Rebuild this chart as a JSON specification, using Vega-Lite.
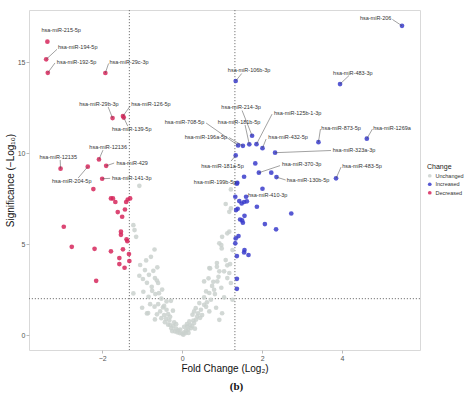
{
  "$schema": "https://vega.github.io/schema/vega-lite/v6.json",
  "width": 391,
  "height": 340,
  "autosize": {"type": "none"},
  "padding": {"left": 29, "top": 10, "right": 54, "bottom": 44},
  "background": "white",
  "config": {
    "view": {"stroke": "#d9d9d9", "strokeWidth": 1},
    "font": "Liberation Sans",
    "legend": {"orient": "none", "legendX": 398, "legendY": 153, "titleFontSize": 7, "titleFontWeight": "normal", "titleColor": "#222", "labelFontSize": 5.5, "labelColor": "#333", "symbolSize": 14, "rowPadding": 1.5, "titlePadding": 3, "symbolStrokeWidth": 0, "symbolType": "circle", "labelOffset": 3}
  },
  "title": {"text": "(b)", "orient": "bottom", "anchor": "middle", "font": "Liberation Serif", "fontSize": 11, "fontWeight": "bold", "color": "#111", "offset": 8, "dx": 12},
  "datasets": {
    "genes": [
      {"log2fc": -1.07, "sig": 8.2, "change": "Unchanged"},
      {"log2fc": -1.22, "sig": 6.04, "change": "Unchanged"},
      {"log2fc": -1.19, "sig": 5.77, "change": "Unchanged"},
      {"log2fc": -1.15, "sig": 5.4, "change": "Unchanged"},
      {"log2fc": -0.69, "sig": 4.7, "change": "Unchanged"},
      {"log2fc": -1.05, "sig": 3.85, "change": "Unchanged"},
      {"log2fc": -0.93, "sig": 3.57, "change": "Unchanged"},
      {"log2fc": -0.72, "sig": 3.53, "change": "Unchanged"},
      {"log2fc": -1.07, "sig": 3.26, "change": "Unchanged"},
      {"log2fc": -0.98, "sig": 3.08, "change": "Unchanged"},
      {"log2fc": -0.88, "sig": 2.87, "change": "Unchanged"},
      {"log2fc": -0.63, "sig": 3.0, "change": "Unchanged"},
      {"log2fc": -0.76, "sig": 2.65, "change": "Unchanged"},
      {"log2fc": -0.97, "sig": 2.38, "change": "Unchanged"},
      {"log2fc": -1.22, "sig": 2.29, "change": "Unchanged"},
      {"log2fc": -0.84, "sig": 2.1, "change": "Unchanged"},
      {"log2fc": -0.69, "sig": 1.56, "change": "Unchanged"},
      {"log2fc": -0.88, "sig": 1.19, "change": "Unchanged"},
      {"log2fc": -0.63, "sig": 1.14, "change": "Unchanged"},
      {"log2fc": -0.68, "sig": 0.86, "change": "Unchanged"},
      {"log2fc": -0.83, "sig": 3.31, "change": "Unchanged"},
      {"log2fc": -0.68, "sig": 3.13, "change": "Unchanged"},
      {"log2fc": -0.6, "sig": 2.86, "change": "Unchanged"},
      {"log2fc": -0.75, "sig": 2.43, "change": "Unchanged"},
      {"log2fc": -0.67, "sig": 2.25, "change": "Unchanged"},
      {"log2fc": -0.52, "sig": 2.0, "change": "Unchanged"},
      {"log2fc": -0.39, "sig": 1.85, "change": "Unchanged"},
      {"log2fc": -0.28, "sig": 1.88, "change": "Unchanged"},
      {"log2fc": -0.48, "sig": 1.52, "change": "Unchanged"},
      {"log2fc": -0.39, "sig": 1.39, "change": "Unchanged"},
      {"log2fc": -0.85, "sig": 1.21, "change": "Unchanged"},
      {"log2fc": -0.23, "sig": 1.34, "change": "Unchanged"},
      {"log2fc": -0.52, "sig": 0.93, "change": "Unchanged"},
      {"log2fc": -0.43, "sig": 0.71, "change": "Unchanged"},
      {"log2fc": -0.35, "sig": 0.57, "change": "Unchanged"},
      {"log2fc": -0.27, "sig": 0.38, "change": "Unchanged"},
      {"log2fc": -0.18, "sig": 0.2, "change": "Unchanged"},
      {"log2fc": -0.06, "sig": 0.11, "change": "Unchanged"},
      {"log2fc": 0.03, "sig": 0.02, "change": "Unchanged"},
      {"log2fc": -0.62, "sig": 3.72, "change": "Unchanged"},
      {"log2fc": 1.22, "sig": 8.0, "change": "Unchanged"},
      {"log2fc": 1.09, "sig": 7.2, "change": "Unchanged"},
      {"log2fc": 1.22, "sig": 6.96, "change": "Unchanged"},
      {"log2fc": 1.18, "sig": 6.77, "change": "Unchanged"},
      {"log2fc": 1.13, "sig": 5.59, "change": "Unchanged"},
      {"log2fc": 1.18, "sig": 5.68, "change": "Unchanged"},
      {"log2fc": 0.93, "sig": 5.04, "change": "Unchanged"},
      {"log2fc": 0.99, "sig": 4.76, "change": "Unchanged"},
      {"log2fc": 1.26, "sig": 4.67, "change": "Unchanged"},
      {"log2fc": 1.09, "sig": 4.12, "change": "Unchanged"},
      {"log2fc": 0.98, "sig": 4.95, "change": "Unchanged"},
      {"log2fc": 0.87, "sig": 3.96, "change": "Unchanged"},
      {"log2fc": 1.13, "sig": 3.83, "change": "Unchanged"},
      {"log2fc": 0.68, "sig": 3.68, "change": "Unchanged"},
      {"log2fc": 0.93, "sig": 3.5, "change": "Unchanged"},
      {"log2fc": 1.05, "sig": 3.5, "change": "Unchanged"},
      {"log2fc": 1.18, "sig": 3.41, "change": "Unchanged"},
      {"log2fc": 0.55, "sig": 2.95, "change": "Unchanged"},
      {"log2fc": 0.88, "sig": 2.95, "change": "Unchanged"},
      {"log2fc": 1.13, "sig": 3.13, "change": "Unchanged"},
      {"log2fc": 1.22, "sig": 2.86, "change": "Unchanged"},
      {"log2fc": 0.8, "sig": 2.49, "change": "Unchanged"},
      {"log2fc": 0.68, "sig": 2.31, "change": "Unchanged"},
      {"log2fc": 0.82, "sig": 2.25, "change": "Unchanged"},
      {"log2fc": 0.55, "sig": 2.07, "change": "Unchanged"},
      {"log2fc": 0.72, "sig": 1.94, "change": "Unchanged"},
      {"log2fc": 1.05, "sig": 2.07, "change": "Unchanged"},
      {"log2fc": 1.26, "sig": 1.94, "change": "Unchanged"},
      {"log2fc": 0.43, "sig": 1.76, "change": "Unchanged"},
      {"log2fc": 0.55, "sig": 1.66, "change": "Unchanged"},
      {"log2fc": 0.34, "sig": 1.48, "change": "Unchanged"},
      {"log2fc": 0.47, "sig": 1.39, "change": "Unchanged"},
      {"log2fc": 0.68, "sig": 1.3, "change": "Unchanged"},
      {"log2fc": 0.93, "sig": 0.84, "change": "Unchanged"},
      {"log2fc": 0.26, "sig": 1.12, "change": "Unchanged"},
      {"log2fc": 0.38, "sig": 1.03, "change": "Unchanged"},
      {"log2fc": 0.18, "sig": 0.75, "change": "Unchanged"},
      {"log2fc": 0.3, "sig": 0.66, "change": "Unchanged"},
      {"log2fc": 0.13, "sig": 0.48, "change": "Unchanged"},
      {"log2fc": 0.22, "sig": 0.38, "change": "Unchanged"},
      {"log2fc": 0.09, "sig": 0.11, "change": "Unchanged"},
      {"log2fc": 0.7, "sig": 3.66, "change": "Unchanged"},
      {"log2fc": 0.87, "sig": 3.75, "change": "Unchanged"},
      {"log2fc": 0.91, "sig": 3.2, "change": "Unchanged"},
      {"log2fc": 0.66, "sig": 3.12, "change": "Unchanged"},
      {"log2fc": 0.78, "sig": 2.93, "change": "Unchanged"},
      {"log2fc": -0.45, "sig": 1.1, "change": "Unchanged"},
      {"log2fc": -0.4, "sig": 0.9, "change": "Unchanged"},
      {"log2fc": -0.32, "sig": 0.8, "change": "Unchanged"},
      {"log2fc": -0.3, "sig": 0.55, "change": "Unchanged"},
      {"log2fc": -0.22, "sig": 0.5, "change": "Unchanged"},
      {"log2fc": -0.15, "sig": 0.35, "change": "Unchanged"},
      {"log2fc": -0.1, "sig": 0.25, "change": "Unchanged"},
      {"log2fc": -0.12, "sig": 0.15, "change": "Unchanged"},
      {"log2fc": 0.0, "sig": 0.08, "change": "Unchanged"},
      {"log2fc": 0.05, "sig": 0.15, "change": "Unchanged"},
      {"log2fc": 0.1, "sig": 0.25, "change": "Unchanged"},
      {"log2fc": 0.15, "sig": 0.3, "change": "Unchanged"},
      {"log2fc": 0.2, "sig": 0.55, "change": "Unchanged"},
      {"log2fc": 0.25, "sig": 0.5, "change": "Unchanged"},
      {"log2fc": 0.28, "sig": 0.8, "change": "Unchanged"},
      {"log2fc": 0.35, "sig": 0.85, "change": "Unchanged"},
      {"log2fc": 0.4, "sig": 1.2, "change": "Unchanged"},
      {"log2fc": -0.05, "sig": 0.3, "change": "Unchanged"},
      {"log2fc": -0.2, "sig": 0.7, "change": "Unchanged"},
      {"log2fc": 0.12, "sig": 0.6, "change": "Unchanged"},
      {"log2fc": 0.5, "sig": 1.1, "change": "Unchanged"},
      {"log2fc": 0.45, "sig": 0.95, "change": "Unchanged"},
      {"log2fc": -0.55, "sig": 1.3, "change": "Unchanged"},
      {"log2fc": -0.6, "sig": 1.7, "change": "Unchanged"},
      {"log2fc": -0.35, "sig": 1.15, "change": "Unchanged"},
      {"log2fc": 0.6, "sig": 1.55, "change": "Unchanged"},
      {"log2fc": 0.62, "sig": 1.8, "change": "Unchanged"},
      {"log2fc": -0.45, "sig": 1.6, "change": "Unchanged"},
      {"log2fc": 0.16, "sig": 0.12, "change": "Unchanged"},
      {"log2fc": -0.25, "sig": 0.22, "change": "Unchanged"},
      {"log2fc": 0.32, "sig": 0.35, "change": "Unchanged"},
      {"log2fc": -0.58, "sig": 2.3, "change": "Unchanged"},
      {"log2fc": -0.5, "sig": 2.5, "change": "Unchanged"},
      {"log2fc": 0.6, "sig": 2.4, "change": "Unchanged"},
      {"log2fc": 0.75, "sig": 2.7, "change": "Unchanged"},
      {"log2fc": -0.8, "sig": 1.7, "change": "Unchanged"},
      {"log2fc": 0.85, "sig": 1.5, "change": "Unchanged"},
      {"log2fc": 1.0, "sig": 1.2, "change": "Unchanged"},
      {"log2fc": -1.0, "sig": 1.5, "change": "Unchanged"},
      {"log2fc": -0.15, "sig": 0.6, "change": "Unchanged"},
      {"log2fc": 0.05, "sig": 0.45, "change": "Unchanged"},
      {"log2fc": -0.3, "sig": 1.0, "change": "Unchanged"},
      {"log2fc": 0.3, "sig": 1.3, "change": "Unchanged"},
      {"log2fc": 0.98, "sig": 2.6, "change": "Unchanged"},
      {"log2fc": -0.9, "sig": 4.1, "change": "Unchanged"},
      {"log2fc": 1.2, "sig": 3.9, "change": "Unchanged"},
      {"log2fc": 1.0, "sig": 5.4, "change": "Unchanged"},
      {"log2fc": -0.78, "sig": 4.3, "change": "Unchanged"},
      {"log2fc": -3.37, "sig": 16.12, "change": "Decreased"},
      {"log2fc": -3.4, "sig": 15.15, "change": "Decreased"},
      {"log2fc": -3.36, "sig": 14.41, "change": "Decreased"},
      {"log2fc": -1.92, "sig": 14.4, "change": "Decreased"},
      {"log2fc": -1.74, "sig": 11.92, "change": "Decreased"},
      {"log2fc": -1.48, "sig": 12.03, "change": "Decreased"},
      {"log2fc": -1.46, "sig": 11.95, "change": "Decreased"},
      {"log2fc": -2.08, "sig": 9.65, "change": "Decreased"},
      {"log2fc": -3.04, "sig": 9.14, "change": "Decreased"},
      {"log2fc": -1.9, "sig": 9.3, "change": "Decreased"},
      {"log2fc": -2.36, "sig": 9.25, "change": "Decreased"},
      {"log2fc": -2.0, "sig": 8.59, "change": "Decreased"},
      {"log2fc": -2.22, "sig": 8.02, "change": "Decreased"},
      {"log2fc": -1.78, "sig": 7.51, "change": "Decreased"},
      {"log2fc": -1.73, "sig": 7.51, "change": "Decreased"},
      {"log2fc": -1.67, "sig": 7.31, "change": "Decreased"},
      {"log2fc": -1.4, "sig": 7.31, "change": "Decreased"},
      {"log2fc": -1.36, "sig": 7.45, "change": "Decreased"},
      {"log2fc": -1.3, "sig": 7.51, "change": "Decreased"},
      {"log2fc": -1.43, "sig": 6.9, "change": "Decreased"},
      {"log2fc": -1.61, "sig": 6.76, "change": "Decreased"},
      {"log2fc": -1.5, "sig": 6.5, "change": "Decreased"},
      {"log2fc": -2.96, "sig": 5.95, "change": "Decreased"},
      {"log2fc": -1.53, "sig": 5.68, "change": "Decreased"},
      {"log2fc": -1.53, "sig": 5.51, "change": "Decreased"},
      {"log2fc": -1.39, "sig": 5.26, "change": "Decreased"},
      {"log2fc": -1.37, "sig": 5.16, "change": "Decreased"},
      {"log2fc": -2.76, "sig": 4.85, "change": "Decreased"},
      {"log2fc": -2.19, "sig": 4.74, "change": "Decreased"},
      {"log2fc": -1.78, "sig": 4.6, "change": "Decreased"},
      {"log2fc": -1.48, "sig": 4.71, "change": "Decreased"},
      {"log2fc": -1.33, "sig": 4.45, "change": "Decreased"},
      {"log2fc": -1.57, "sig": 4.23, "change": "Decreased"},
      {"log2fc": -1.32, "sig": 4.07, "change": "Decreased"},
      {"log2fc": -1.57, "sig": 3.9, "change": "Decreased"},
      {"log2fc": -1.44, "sig": 3.7, "change": "Decreased"},
      {"log2fc": -2.15, "sig": 2.98, "change": "Decreased"},
      {"log2fc": 1.34, "sig": 13.96, "change": "Increased"},
      {"log2fc": 1.75, "sig": 10.95, "change": "Increased"},
      {"log2fc": 1.68, "sig": 10.48, "change": "Increased"},
      {"log2fc": 1.86, "sig": 10.49, "change": "Increased"},
      {"log2fc": 1.4, "sig": 10.42, "change": "Increased"},
      {"log2fc": 1.52, "sig": 10.4, "change": "Increased"},
      {"log2fc": 2.01, "sig": 10.27, "change": "Increased"},
      {"log2fc": 2.325, "sig": 10.02, "change": "Increased"},
      {"log2fc": 1.34, "sig": 9.87, "change": "Increased"},
      {"log2fc": 1.92, "sig": 8.92, "change": "Increased"},
      {"log2fc": 2.36, "sig": 8.68, "change": "Increased"},
      {"log2fc": 2.01, "sig": 8.04, "change": "Increased"},
      {"log2fc": 1.38, "sig": 8.37, "change": "Increased"},
      {"log2fc": 1.37, "sig": 8.32, "change": "Increased"},
      {"log2fc": 5.5, "sig": 16.99, "change": "Increased"},
      {"log2fc": 3.95, "sig": 13.79, "change": "Increased"},
      {"log2fc": 3.41, "sig": 10.6, "change": "Increased"},
      {"log2fc": 4.62, "sig": 10.79, "change": "Increased"},
      {"log2fc": 3.85, "sig": 8.61, "change": "Increased"},
      {"log2fc": 1.55, "sig": 8.7, "change": "Increased"},
      {"log2fc": 1.83, "sig": 9.43, "change": "Increased"},
      {"log2fc": 2.23, "sig": 8.92, "change": "Increased"},
      {"log2fc": 1.33, "sig": 7.6, "change": "Increased"},
      {"log2fc": 1.6, "sig": 7.6, "change": "Increased"},
      {"log2fc": 1.43, "sig": 7.36, "change": "Increased"},
      {"log2fc": 1.49, "sig": 7.23, "change": "Increased"},
      {"log2fc": 1.55, "sig": 7.31, "change": "Increased"},
      {"log2fc": 1.62, "sig": 7.35, "change": "Increased"},
      {"log2fc": 1.87, "sig": 7.05, "change": "Increased"},
      {"log2fc": 1.35, "sig": 6.87, "change": "Increased"},
      {"log2fc": 1.39, "sig": 6.94, "change": "Increased"},
      {"log2fc": 2.73, "sig": 6.68, "change": "Increased"},
      {"log2fc": 1.56, "sig": 6.55, "change": "Increased"},
      {"log2fc": 1.45, "sig": 6.35, "change": "Increased"},
      {"log2fc": 1.5, "sig": 6.3, "change": "Increased"},
      {"log2fc": 1.52, "sig": 6.17, "change": "Increased"},
      {"log2fc": 2.07, "sig": 6.1, "change": "Increased"},
      {"log2fc": 2.35, "sig": 5.81, "change": "Increased"},
      {"log2fc": 1.41, "sig": 5.44, "change": "Increased"},
      {"log2fc": 1.34, "sig": 5.31, "change": "Increased"},
      {"log2fc": 1.33, "sig": 5.04, "change": "Increased"},
      {"log2fc": 1.56, "sig": 4.67, "change": "Increased"},
      {"log2fc": 1.55, "sig": 4.54, "change": "Increased"},
      {"log2fc": 1.66, "sig": 4.4, "change": "Increased"},
      {"log2fc": 1.37, "sig": 4.34, "change": "Increased"},
      {"log2fc": 1.37, "sig": 3.09, "change": "Increased"},
      {"log2fc": 1.37, "sig": 2.54, "change": "Increased"}
    ],
    "labels": [
      {"gene": "hsa-miR-215-5p", "log2fc": -3.37, "sig": 16.12, "lx": -3.025, "ly": 16.76, "sx": null, "sy": null},
      {"gene": "hsa-miR-194-5p", "log2fc": -3.4, "sig": 15.15, "lx": -2.61, "ly": 15.84, "sx": -3.13, "sy": 15.7},
      {"gene": "hsa-miR-192-5p", "log2fc": -3.36, "sig": 14.41, "lx": -2.64, "ly": 15.02, "sx": -3.18, "sy": 14.95},
      {"gene": "hsa-miR-29c-3p", "log2fc": -1.92, "sig": 14.4, "lx": -1.33, "ly": 15.0, "sx": -1.84, "sy": 14.92},
      {"gene": "hsa-miR-29b-3p", "log2fc": -1.74, "sig": 11.92, "lx": -2.08, "ly": 12.69, "sx": -1.85, "sy": 12.53},
      {"gene": "hsa-miR-126-5p", "log2fc": -1.48, "sig": 12.03, "lx": -0.78, "ly": 12.71, "sx": -1.3, "sy": 12.58},
      {"gene": "hsa-miR-139-5p", "log2fc": -1.46, "sig": 11.95, "lx": -1.26, "ly": 11.3, "sx": -1.36, "sy": 11.48},
      {"gene": "hsa-miR-12136", "log2fc": -2.08, "sig": 9.65, "lx": -1.85, "ly": 10.36, "sx": -1.98, "sy": 10.16},
      {"gene": "hsa-miR-12135", "log2fc": -3.04, "sig": 9.14, "lx": -3.1, "ly": 9.8, "sx": -3.05, "sy": 9.62},
      {"gene": "hsa-miR-429", "log2fc": -1.9, "sig": 9.3, "lx": -1.25, "ly": 9.47, "sx": -1.7, "sy": 9.45},
      {"gene": "hsa-miR-204-5p", "log2fc": -2.36, "sig": 9.25, "lx": -2.76, "ly": 8.46, "sx": -2.6, "sy": 8.63},
      {"gene": "hsa-miR-141-3p", "log2fc": -2.0, "sig": 8.59, "lx": -1.26, "ly": 8.63, "sx": -1.8, "sy": 8.61},
      {"gene": "hsa-miR-106b-3p", "log2fc": 1.34, "sig": 13.96, "lx": 1.675, "ly": 14.54, "sx": 1.49, "sy": 14.37},
      {"gene": "hsa-miR-214-3p", "log2fc": 1.75, "sig": 10.95, "lx": 1.475, "ly": 12.51, "sx": 1.5, "sy": 12.34},
      {"gene": "hsa-miR-181b-5p", "log2fc": 1.68, "sig": 10.48, "lx": 1.425, "ly": 11.69, "sx": 1.575, "sy": 11.54},
      {"gene": "hsa-miR-125b-1-3p", "log2fc": 1.86, "sig": 10.49, "lx": 2.89, "ly": 12.21, "sx": 2.25, "sy": 12.14},
      {"gene": "hsa-miR-708-5p", "log2fc": 1.4, "sig": 10.42, "lx": 0.06, "ly": 11.69, "sx": 0.6, "sy": 11.65},
      {"gene": "hsa-miR-196a-5p", "log2fc": 1.52, "sig": 10.4, "lx": 0.595, "ly": 10.9, "sx": 1.175, "sy": 10.85},
      {"gene": "hsa-miR-432-5p", "log2fc": 2.01, "sig": 10.27, "lx": 2.65, "ly": 10.9, "sx": 2.1, "sy": 10.77},
      {"gene": "hsa-miR-323a-3p", "log2fc": 2.325, "sig": 10.02, "lx": 4.3, "ly": 10.15, "sx": 3.725, "sy": 10.14},
      {"gene": "hsa-miR-181a-5p", "log2fc": 1.34, "sig": 9.87, "lx": 1.01, "ly": 9.29, "sx": 1.225, "sy": 9.56},
      {"gene": "hsa-miR-370-3p", "log2fc": 1.92, "sig": 8.92, "lx": 2.99, "ly": 9.38, "sx": 2.45, "sy": 9.31},
      {"gene": "hsa-miR-130b-5p", "log2fc": 2.36, "sig": 8.68, "lx": 3.15, "ly": 8.5, "sx": 2.59, "sy": 8.52},
      {"gene": "hsa-miR-410-3p", "log2fc": 2.01, "sig": 8.04, "lx": 2.14, "ly": 7.69, "sx": null, "sy": null},
      {"gene": "hsa-miR-199b-5p", "log2fc": 1.38, "sig": 8.37, "lx": 0.825, "ly": 8.41, "sx": null, "sy": null},
      {"gene": "hsa-miR-206", "log2fc": 5.5, "sig": 16.99, "lx": 4.84, "ly": 17.4, "sx": 5.26, "sy": 17.34},
      {"gene": "hsa-miR-483-3p", "log2fc": 3.95, "sig": 13.79, "lx": 4.27, "ly": 14.41, "sx": 4.175, "sy": 14.26},
      {"gene": "hsa-miR-873-5p", "log2fc": 3.41, "sig": 10.6, "lx": 3.975, "ly": 11.39, "sx": 3.46, "sy": 11.32},
      {"gene": "hsa-miR-1269a", "log2fc": 4.62, "sig": 10.79, "lx": 5.25, "ly": 11.39, "sx": 4.76, "sy": 11.32},
      {"gene": "hsa-miR-483-5p", "log2fc": 3.85, "sig": 8.61, "lx": 4.5, "ly": 9.29, "sx": 3.975, "sy": 9.23}
    ],
    "cuts": [{"fc": -1.32}, {"fc": 1.32}],
    "pcut": [{"p": 2}]
  },
  "layer": [
    {
      "data": {"name": "cuts"},
      "mark": {"type": "rule", "color": "#666", "strokeDash": [1.2, 1.8], "strokeWidth": 0.9},
      "encoding": {"x": {"field": "fc", "type": "quantitative", "scale": {"domain": [-3.83, 5.95], "nice": false, "zero": false}}}
    },
    {
      "data": {"name": "pcut"},
      "mark": {"type": "rule", "color": "#666", "strokeDash": [1.2, 1.8], "strokeWidth": 0.9},
      "encoding": {"y": {"field": "p", "type": "quantitative", "scale": {"domain": [-0.82, 17.86], "nice": false, "zero": false}}}
    },
    {
      "data": {"name": "genes"},
      "mark": {"type": "point", "filled": true, "size": 22, "opacity": 0.85},
      "encoding": {
        "x": {"field": "log2fc", "type": "quantitative", "scale": {"domain": [-3.83, 5.95], "nice": false, "zero": false},
          "axis": {"title": "Fold Change (Log₂)", "values": [-2, 0, 2, 4], "grid": false, "domain": false, "tickColor": "#bbb", "tickSize": 3, "labelFontSize": 7, "labelColor": "#555", "labelPadding": 1, "titleFontSize": 10, "titleFontWeight": "normal", "titleColor": "#111", "titlePadding": 2}},
        "y": {"field": "sig", "type": "quantitative", "scale": {"domain": [-0.82, 17.86], "nice": false, "zero": false},
          "axis": {"title": "Significance (−Log₁₀)", "values": [0, 5, 10, 15], "grid": false, "domain": false, "tickColor": "#bbb", "tickSize": 3, "labelFontSize": 7, "labelColor": "#555", "labelPadding": 1, "titleFontSize": 10, "titleFontWeight": "normal", "titleColor": "#111", "titlePadding": 2}},
        "color": {"field": "change", "type": "nominal", "title": "Change",
          "scale": {"domain": ["Unchanged", "Increased", "Decreased"], "range": ["#cad1ce", "#3a3ccb", "#d6275c"]}}
      }
    },
    {
      "data": {"name": "labels"},
      "transform": [{"filter": "datum.sx != null"}],
      "mark": {"type": "rule", "color": "#444", "strokeWidth": 0.5},
      "encoding": {
        "x": {"field": "log2fc", "type": "quantitative"},
        "y": {"field": "sig", "type": "quantitative"},
        "x2": {"field": "sx"},
        "y2": {"field": "sy"}
      }
    },
    {
      "data": {"name": "labels"},
      "mark": {"type": "text", "fontSize": 5.5, "color": "#333", "align": "center", "baseline": "middle"},
      "encoding": {
        "x": {"field": "lx", "type": "quantitative"},
        "y": {"field": "ly", "type": "quantitative"},
        "text": {"field": "gene"}
      }
    }
  ]
}
